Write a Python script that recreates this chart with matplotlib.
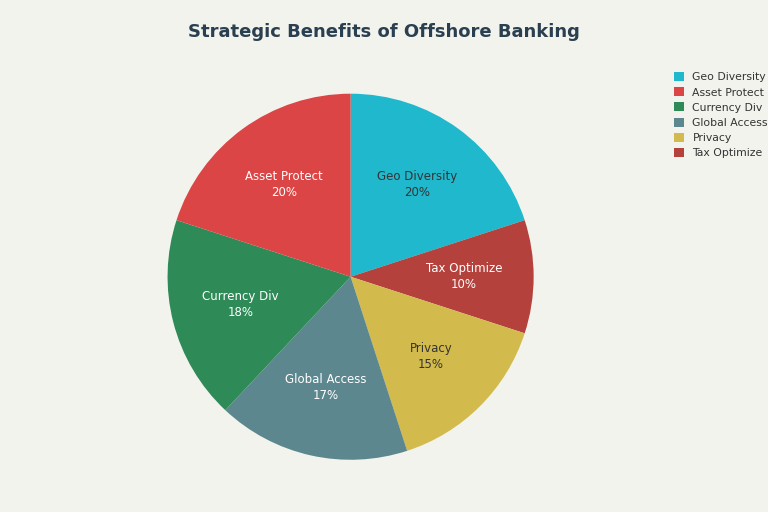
import matplotlib
matplotlib.use("Agg")
import matplotlib.pyplot as plt
import numpy as np

labels = ["Geo Diversity", "Tax Optimize", "Privacy", "Global Access", "Currency Div", "Asset Protect"]
values = [20, 10, 15, 17, 18, 20]
colors = ["#1FB8CD", "#B4413C", "#D2BA4C", "#5D878F", "#2E8B57", "#DB4545"]
text_colors = ["#333333", "white", "#333333", "white", "white", "white"]
legend_order = ["Geo Diversity", "Asset Protect", "Currency Div", "Global Access", "Privacy", "Tax Optimize"]

bg = "#F3F3EE"
fig = plt.figure(figsize=(7.68, 5.12), dpi=100, facecolor=bg)
ax = fig.add_axes([0.218, 0.102, 0.477, 0.715])
ax.set_facecolor(bg)
wedges, texts = ax.pie(values, colors=colors, startangle=90, counterclock=False,
                       wedgeprops=dict(linewidth=0))
total = sum(values)
ang = 90.0
for w, lab, v, tc in zip(wedges, labels, values, text_colors):
    mid = ang - v / total * 360 / 2
    ang -= v / total * 360
    r = 0.62
    ax.text(r * np.cos(np.radians(mid)), r * np.sin(np.radians(mid)),
            f"{lab}\n{v}%", ha="center", va="center", fontsize=8.5, color=tc, linespacing=1.3)
ax.set_xlim(-1, 1)
ax.set_ylim(-1, 1)
ax.set_aspect("equal")
ax.axis("off")

handles = [wedges[labels.index(l)] for l in legend_order]
fig.legend(handles, legend_order, loc="upper left", bbox_to_anchor=(0.865, 0.878),
           frameon=False, fontsize=7.8, handlelength=0.9, handleheight=0.9,
           labelspacing=0.45, handletextpad=0.8, labelcolor="#333333")
fig.suptitle("Strategic Benefits of Offshore Banking", x=0.5, y=0.955,
             fontsize=13, color="#2a3f4f", fontweight="semibold")
fig.savefig("out.png", dpi=100, facecolor=bg)
